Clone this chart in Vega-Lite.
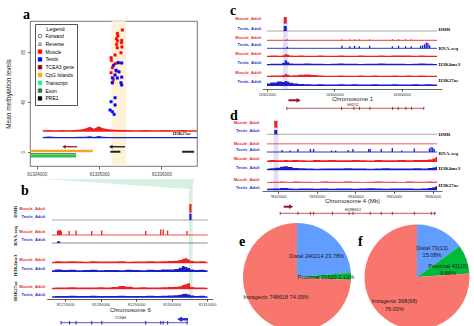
{
"$schema": "https://vega.github.io/schema/vega-lite/v6.json",
"padding": {"left": 5, "top": 4, "right": 0, "bottom": 0},
"config": {
  "font": "Liberation Sans",
  "view": {"stroke": null},
  "axis": {"grid": false},
  "title": {"anchor": "start", "frame": "group", "fontSize": 14, "font": "Liberation Serif", "fontWeight": "bold", "baseline": "alphabetic", "color": "#000"}
},
"datasets": {
  "aPts": [
    {"pos":81305372,"m":97.4,"series":"Muscle"},{"pos":81305292,"m":94.7,"series":"Muscle"},{"pos":81305300,"m":92.6,"series":"Muscle"},
    {"pos":81305276,"m":90.4,"series":"Muscle"},{"pos":81305295,"m":88.6,"series":"Muscle"},{"pos":81305362,"m":89.1,"series":"Muscle"},
    {"pos":81305280,"m":85.9,"series":"Muscle"},{"pos":81305360,"m":87.2,"series":"Muscle"},{"pos":81305290,"m":83.2,"series":"Muscle"},
    {"pos":81305365,"m":83.8,"series":"Muscle"},{"pos":81305350,"m":79.2,"series":"Muscle"},{"pos":81305255,"m":77.4,"series":"Muscle"},
    {"pos":81305191,"m":75.2,"series":"Muscle"},{"pos":81305195,"m":73.1,"series":"Muscle"},{"pos":81305255,"m":70.4,"series":"Muscle"},
    {"pos":81305319,"m":71.2,"series":"Muscle"},{"pos":81305212,"m":67.2,"series":"Muscle"},{"pos":81305276,"m":64.6,"series":"Muscle"},
    {"pos":81305191,"m":63.2,"series":"Muscle"},{"pos":81305228,"m":57.9,"series":"Muscle"},{"pos":81305212,"m":55.0,"series":"Muscle"},
    {"pos":81305300,"m":71.2,"series":"Testis"},{"pos":81305362,"m":71.0,"series":"Testis"},{"pos":81305228,"m":69.1,"series":"Testis"},
    {"pos":81305270,"m":65.2,"series":"Testis"},{"pos":81305319,"m":63.9,"series":"Testis"},{"pos":81305255,"m":61.4,"series":"Testis"},
    {"pos":81305212,"m":59.2,"series":"Testis"},{"pos":81305292,"m":59.0,"series":"Testis"},{"pos":81305362,"m":59.7,"series":"Testis"},
    {"pos":81305350,"m":55.2,"series":"Testis"},{"pos":81305362,"m":53.4,"series":"Testis"},{"pos":81305212,"m":55.5,"series":"Testis"},
    {"pos":81305255,"m":43.2,"series":"Testis"},{"pos":81305191,"m":40.0,"series":"Testis"},{"pos":81305255,"m":37.4,"series":"Testis"},
    {"pos":81305175,"m":33.4,"series":"Testis"},{"pos":81305212,"m":32.0,"series":"Testis"},{"pos":81305240,"m":29.9,"series":"Testis"}
  ],
  "aTrack": [
    {"pos":81304096,"red":1.5,"blue":1.2},{"pos":81304200,"red":1.6,"blue":1.8},{"pos":81304300,"red":1.4,"blue":1.3},
    {"pos":81304400,"red":1.7,"blue":1.2},{"pos":81304500,"red":1.5,"blue":1.4},{"pos":81304600,"red":1.6,"blue":1.3},
    {"pos":81304700,"red":2.2,"blue":1.5},{"pos":81304780,"red":3.2,"blue":1.6},{"pos":81304850,"red":5.0,"blue":2.0},
    {"pos":81304920,"red":3.0,"blue":1.4},{"pos":81304990,"red":5.5,"blue":2.2},{"pos":81305060,"red":3.5,"blue":1.5},
    {"pos":81305150,"red":2.5,"blue":1.3},{"pos":81305250,"red":2.0,"blue":1.2},{"pos":81305350,"red":1.8,"blue":1.4},
    {"pos":81305450,"red":1.6,"blue":1.3},{"pos":81305600,"red":1.5,"blue":1.2},{"pos":81305750,"red":1.7,"blue":1.3},
    {"pos":81305900,"red":1.4,"blue":1.2},{"pos":81306050,"red":1.6,"blue":1.4},{"pos":81306200,"red":1.5,"blue":1.2},
    {"pos":81306350,"red":1.7,"blue":1.3},{"pos":81306500,"red":1.5,"blue":1.2},{"pos":81306570,"red":1.4,"blue":1.2}
  ],
  "bSpan": [{"from":81266200,"to":81310150}],
  "bDmr": [{"pos":81305280,"m":8.7,"t":6.3}],
  "bRnaM": [
    {"pos":81267870,"v":4},{"pos":81268130,"v":5},{"pos":81268400,"v":4.5},{"pos":81268660,"v":5},{"pos":81268930,"v":3.5},
    {"pos":81271120,"v":4},{"pos":81273090,"v":4.5},{"pos":81277480,"v":4},{"pos":81280310,"v":4.5},{"pos":81292680,"v":4},
    {"pos":81296920,"v":5.5},{"pos":81297600,"v":5.5},{"pos":81298850,"v":4.5},{"pos":81304330,"v":4}
  ],
  "bRnaT": [{"pos":81267870,"v":1.5},{"pos":81268130,"v":2},{"pos":81268400,"v":1.5}],
  "bExon": [{"pos":81268848},{"pos":81271231},{"pos":81273084},{"pos":81277480},{"pos":81280314},{"pos":81292680},{"pos":81296917},{"pos":81297605},{"pos":81298850},{"pos":81304331}],
  "bChip": [
    {"pos":81266300,"k4m":1.6,"k4t":1.8,"k27m":1.6,"k27t":1.5},
    {"pos":81268000,"k4m":2.0,"k4t":2.4,"k27m":1.9,"k27t":1.8},
    {"pos":81270000,"k4m":1.7,"k4t":1.9,"k27m":1.7,"k27t":1.6},
    {"pos":81272000,"k4m":2.1,"k4t":2.2,"k27m":2.0,"k27t":2.0},
    {"pos":81274000,"k4m":1.8,"k4t":1.7,"k27m":1.8,"k27t":1.7},
    {"pos":81276000,"k4m":1.6,"k4t":2.0,"k27m":1.7,"k27t":1.6},
    {"pos":81278000,"k4m":2.0,"k4t":2.3,"k27m":1.9,"k27t":1.9},
    {"pos":81280000,"k4m":1.9,"k4t":1.8,"k27m":2.0,"k27t":1.7},
    {"pos":81282000,"k4m":1.7,"k4t":2.1,"k27m":1.8,"k27t":1.8},
    {"pos":81284000,"k4m":1.8,"k4t":1.9,"k27m":2.2,"k27t":1.6},
    {"pos":81286000,"k4m":2.0,"k4t":1.7,"k27m":3.2,"k27t":1.9},
    {"pos":81288000,"k4m":1.6,"k4t":2.2,"k27m":2.5,"k27t":1.7},
    {"pos":81290000,"k4m":1.9,"k4t":2.0,"k27m":1.9,"k27t":1.8},
    {"pos":81292000,"k4m":1.7,"k4t":1.8,"k27m":2.0,"k27t":1.6},
    {"pos":81294000,"k4m":2.0,"k4t":2.3,"k27m":1.8,"k27t":1.9},
    {"pos":81296000,"k4m":1.8,"k4t":1.9,"k27m":1.9,"k27t":1.8},
    {"pos":81298000,"k4m":2.1,"k4t":2.4,"k27m":2.0,"k27t":2.0},
    {"pos":81300000,"k4m":2.2,"k4t":2.6,"k27m":2.2,"k27t":2.1},
    {"pos":81301500,"k4m":2.6,"k4t":3.0,"k27m":2.5,"k27t":2.4},
    {"pos":81302500,"k4m":3.4,"k4t":4.2,"k27m":3.0,"k27t":3.0},
    {"pos":81303300,"k4m":4.6,"k4t":6.0,"k27m":4.2,"k27t":3.8},
    {"pos":81304000,"k4m":5.0,"k4t":5.0,"k27m":5.0,"k27t":4.0},
    {"pos":81304800,"k4m":3.8,"k4t":4.0,"k27m":6.0,"k27t":3.2},
    {"pos":81305600,"k4m":2.4,"k4t":2.5,"k27m":2.4,"k27t":2.2},
    {"pos":81307000,"k4m":1.8,"k4t":2.0,"k27m":1.8,"k27t":1.7},
    {"pos":81308500,"k4m":2.0,"k4t":2.2,"k27m":1.9,"k27t":1.9},
    {"pos":81310100,"k4m":1.6,"k4t":1.8,"k27m":1.6,"k27t":1.5}
  ],
  "cSpan": [{"from":163020000,"to":163070500}],
  "cDmr": [{"pos":163025420,"m":6.7,"t":5}],
  "cRnaM": [
    {"pos":163026090,"v":1},{"pos":163042250,"v":1},{"pos":163044610,"v":1},{"pos":163046010,"v":1},{"pos":163047410,"v":1},
    {"pos":163050500,"v":1},{"pos":163057240,"v":1},{"pos":163059090,"v":1},{"pos":163061160,"v":1},{"pos":163062850,"v":1}
  ],
  "cRnaT": [
    {"pos":163026090,"v":1.5},{"pos":163042250,"v":2.5},{"pos":163044610,"v":2},{"pos":163046010,"v":2.5},{"pos":163047410,"v":2},
    {"pos":163050500,"v":2.5},{"pos":163057240,"v":2},{"pos":163059090,"v":2.5},{"pos":163061160,"v":2},{"pos":163062850,"v":2},
    {"pos":163065600,"v":2.5},{"pos":163066200,"v":3},{"pos":163066800,"v":4},{"pos":163067300,"v":5.7},{"pos":163067800,"v":5.2},{"pos":163068300,"v":3}
  ],
  "cExon": [{"pos":163025893},{"pos":163042167},{"pos":163045815},{"pos":163047499},{"pos":163050585},{"pos":163057320},{"pos":163059003},{"pos":163061248},{"pos":163062932},{"pos":163066580}],
  "cChip": [
    {"pos":163020000,"k4m":1.2,"k4t":1.4,"k27m":1.2,"k27t":2.5},
    {"pos":163022000,"k4m":1.4,"k4t":1.6,"k27m":1.4,"k27t":3.5},
    {"pos":163024000,"k4m":1.3,"k4t":1.5,"k27m":1.5,"k27t":4.5},
    {"pos":163025000,"k4m":1.8,"k4t":2.5,"k27m":2.0,"k27t":4.0},
    {"pos":163025600,"k4m":3.0,"k4t":5.0,"k27m":3.0,"k27t":5.0},
    {"pos":163026200,"k4m":2.2,"k4t":3.0,"k27m":2.2,"k27t":4.2},
    {"pos":163027000,"k4m":1.5,"k4t":1.8,"k27m":1.6,"k27t":3.2},
    {"pos":163028500,"k4m":1.3,"k4t":1.6,"k27m":1.8,"k27t":2.6},
    {"pos":163030000,"k4m":1.4,"k4t":1.5,"k27m":2.2,"k27t":2.0},
    {"pos":163032000,"k4m":1.2,"k4t":1.7,"k27m":2.4,"k27t":1.8},
    {"pos":163034000,"k4m":1.3,"k4t":1.5,"k27m":2.0,"k27t":1.6},
    {"pos":163036000,"k4m":1.4,"k4t":1.6,"k27m":1.5,"k27t":1.7},
    {"pos":163038000,"k4m":1.2,"k4t":1.4,"k27m":1.3,"k27t":1.5},
    {"pos":163040000,"k4m":1.3,"k4t":1.5,"k27m":1.2,"k27t":1.6},
    {"pos":163042000,"k4m":1.4,"k4t":1.7,"k27m":1.4,"k27t":1.8},
    {"pos":163044000,"k4m":1.2,"k4t":1.5,"k27m":1.3,"k27t":1.5},
    {"pos":163046000,"k4m":1.3,"k4t":1.6,"k27m":1.2,"k27t":1.7},
    {"pos":163048000,"k4m":1.5,"k4t":1.4,"k27m":1.4,"k27t":1.6},
    {"pos":163050000,"k4m":1.3,"k4t":1.5,"k27m":1.3,"k27t":1.5},
    {"pos":163052000,"k4m":1.2,"k4t":1.6,"k27m":1.5,"k27t":1.7},
    {"pos":163054000,"k4m":1.4,"k4t":1.7,"k27m":1.3,"k27t":1.6},
    {"pos":163056000,"k4m":1.3,"k4t":1.5,"k27m":1.2,"k27t":1.5},
    {"pos":163058000,"k4m":1.5,"k4t":1.6,"k27m":1.4,"k27t":1.8},
    {"pos":163060000,"k4m":1.6,"k4t":1.5,"k27m":1.3,"k27t":1.6},
    {"pos":163062000,"k4m":1.4,"k4t":1.4,"k27m":1.5,"k27t":1.5},
    {"pos":163064000,"k4m":1.3,"k4t":1.6,"k27m":1.3,"k27t":1.7},
    {"pos":163066000,"k4m":1.4,"k4t":1.7,"k27m":1.4,"k27t":1.6},
    {"pos":163068000,"k4m":1.3,"k4t":1.5,"k27m":1.2,"k27t":1.8},
    {"pos":163070500,"k4m":1.2,"k4t":1.4,"k27m":1.3,"k27t":1.5}
  ],
  "dSpan": [{"from":98417100,"to":98461150}],
  "dDmr": [{"pos":98419380,"m":6.7,"t":4.3}],
  "dRnaM": [{"pos":98417100,"v":0.9},{"pos":98461150,"v":0.9}],
  "dRnaT": [
    {"pos":98421015,"v":2},{"pos":98423046,"v":1.5},{"pos":98425102,"v":3},{"pos":98428356,"v":3},{"pos":98429164,"v":3},
    {"pos":98433813,"v":1.5},{"pos":98434890,"v":1.5},{"pos":98438144,"v":2},{"pos":98439368,"v":3},{"pos":98443454,"v":3},
    {"pos":98443846,"v":3},{"pos":98446709,"v":3},{"pos":98449572,"v":4},{"pos":98452019,"v":1.5},{"pos":98455273,"v":3.5},
    {"pos":98459188,"v":3.5},{"pos":98459604,"v":5},{"pos":98460045,"v":4.5},{"pos":98460412,"v":3}
  ],
  "dExon": [{"pos":98420526},{"pos":98425102},{"pos":98428356},{"pos":98429164},{"pos":98434057},{"pos":98438389},{"pos":98439368},{"pos":98443846},{"pos":98446709},{"pos":98449572},{"pos":98455273},{"pos":98459678},{"pos":98460535}],
  "dChip": [
    {"pos":98417100,"k4m":1.6,"k4t":1.6,"k27m":0.8,"k27t":1.5},
    {"pos":98418500,"k4m":1.9,"k4t":2.0,"k27m":1.0,"k27t":1.9},
    {"pos":98420000,"k4m":1.7,"k4t":2.6,"k27m":0.9,"k27t":1.7},
    {"pos":98421000,"k4m":1.8,"k4t":3.6,"k27m":1.2,"k27t":2.2},
    {"pos":98422000,"k4m":2.0,"k4t":4.0,"k27m":1.0,"k27t":2.4},
    {"pos":98423000,"k4m":1.7,"k4t":3.2,"k27m":0.8,"k27t":1.8},
    {"pos":98424500,"k4m":1.9,"k4t":2.4,"k27m":1.1,"k27t":1.6},
    {"pos":98426000,"k4m":1.8,"k4t":2.0,"k27m":0.9,"k27t":1.9},
    {"pos":98428000,"k4m":1.6,"k4t":1.8,"k27m":1.0,"k27t":1.7},
    {"pos":98430000,"k4m":1.9,"k4t":1.6,"k27m":0.8,"k27t":1.5},
    {"pos":98432000,"k4m":1.7,"k4t":1.9,"k27m":1.1,"k27t":1.8},
    {"pos":98434000,"k4m":2.0,"k4t":1.7,"k27m":0.9,"k27t":1.6},
    {"pos":98436000,"k4m":1.8,"k4t":1.8,"k27m":1.0,"k27t":1.9},
    {"pos":98438000,"k4m":1.7,"k4t":2.0,"k27m":1.2,"k27t":1.7},
    {"pos":98440000,"k4m":1.9,"k4t":1.7,"k27m":0.9,"k27t":1.6},
    {"pos":98442000,"k4m":1.8,"k4t":1.9,"k27m":0.8,"k27t":1.8},
    {"pos":98444000,"k4m":1.6,"k4t":1.6,"k27m":1.0,"k27t":2.0},
    {"pos":98446000,"k4m":1.9,"k4t":1.8,"k27m":1.1,"k27t":1.7},
    {"pos":98448000,"k4m":1.7,"k4t":2.0,"k27m":0.9,"k27t":1.6},
    {"pos":98450000,"k4m":1.8,"k4t":1.7,"k27m":1.0,"k27t":1.9},
    {"pos":98452000,"k4m":2.0,"k4t":1.9,"k27m":0.8,"k27t":1.7},
    {"pos":98454000,"k4m":1.7,"k4t":1.8,"k27m":1.1,"k27t":1.8},
    {"pos":98456000,"k4m":1.9,"k4t":2.0,"k27m":0.9,"k27t":1.6},
    {"pos":98458000,"k4m":2.0,"k4t":1.9,"k27m":1.0,"k27t":1.9},
    {"pos":98459500,"k4m":2.4,"k4t":2.2,"k27m":1.2,"k27t":2.2},
    {"pos":98460400,"k4m":3.5,"k4t":2.8,"k27m":1.0,"k27t":3.0},
    {"pos":98461150,"k4m":5.0,"k4t":3.5,"k27m":1.3,"k27t":4.0}
  ],
  "pieE": [
    {"cat":"Distal","v":240214,"i":1,"label":"Distal  240214  23.78%"},
    {"cat":"Proximal","v":21520,"i":2,"label":"Proximal  21520  2.13%"},
    {"cat":"Intragenic","v":748618,"i":3,"label":"Intragenic  748618  74.09%"}
  ],
  "pieF": [
    {"cat":"Distal","v":73,"i":1,"label":"Distal  73(13)\n15.08%"},
    {"cat":"Proximal","v":43,"i":2,"label":"Proximal  43(15)\n8.88%"},
    {"cat":"Intragenic","v":368,"i":3,"label":"Intragenic  368(68)\n76.03%"}
  ]
},
"spacing": 13,
"bounds": "full",
"hconcat": [
 {"vconcat": [
  {
   "width": 167, "height": 145,
   "title": {"text": "a", "offset": 5, "dy": 6, "dx": -7},
   "view": {"stroke": "#555", "strokeWidth": 0.8},
   "resolve": {"scale": {"y": "independent"}},
   "layer": [
    {"layer": [
      {"data": {"values": [{"from": 81305200, "to": 81305430}]}, "mark": {"type": "rect", "color": "#fdf1d3", "opacity": 0.9},
       "encoding": {"x": {"field": "from", "type": "quantitative"}, "x2": {"field": "to"}}},
      {"data": {"name": "aPts"}, "mark": {"type": "point", "size": 6, "strokeWidth": 0.5, "opacity": 1},
       "encoding": {
        "x": {"field": "pos", "type": "quantitative", "scale": {"domain": [81303890, 81306570], "nice": false, "zero": false},
              "axis": {"values": [81304000, 81304500, 81305000, 81305500, 81306000, 81306500], "format": "d", "title": null, "labelFontSize": 4.5, "labelColor": "#444", "tickSize": 3, "tickColor": "#666", "domain": false, "labelPadding": 2, "labelFlush": false}},
        "y": {"field": "m", "type": "quantitative", "scale": {"domain": [-11.4, 104.6], "nice": false, "zero": false},
              "axis": {"values": [0, 20, 40, 60, 80, 100], "title": "Mean methylation levels", "titleFontSize": 6.5, "titleFontWeight": "normal", "titleColor": "#222", "labelAngle": 270, "labelAlign": "center", "labelBaseline": "bottom", "labelFontSize": 4.5, "labelColor": "#444", "tickSize": 2.5, "tickColor": "#666", "domain": false, "labelPadding": 2, "titlePadding": 9}},
        "fill": {"field": "series", "type": "nominal",
                 "scale": {"domain": ["Forward","Reverse","Muscle","Testis","TCEA3 gene","CpG Islands","Transcript","Exon","PRE1"],
                           "range": ["transparent","transparent","#ff0000","#0000ff","#8b0000","#ffa500","#00ff7f","#1e7b34","#000000"]},
                 "legend": {"title": "Legend", "orient": "none", "legendX": 5, "legendY": 3, "strokeColor": "#555", "fillColor": "white", "padding": 2.5, "titleFontSize": 5.5, "titleFontWeight": "normal", "titleAnchor": "middle", "titlePadding": 1.5, "labelFontSize": 5, "symbolSize": 12, "rowPadding": 0.8, "symbolStrokeWidth": 0.8, "labelOffset": 3}},
        "stroke": {"field": "series", "type": "nominal",
                 "scale": {"domain": ["Forward","Reverse","Muscle","Testis","TCEA3 gene","CpG Islands","Transcript","Exon","PRE1"],
                           "range": ["#555","#555","#ff0000","#0000ff","#8b0000","#ffa500","#00ff7f","#1e7b34","#000000"]},
                 "legend": {"title": "Legend", "orient": "none", "legendX": 5, "legendY": 3, "strokeColor": "#555", "fillColor": "white", "padding": 2.5, "titleFontSize": 5.5, "titleFontWeight": "normal", "titleAnchor": "middle", "titlePadding": 1.5, "labelFontSize": 5, "symbolSize": 12, "rowPadding": 0.8, "symbolStrokeWidth": 0.8, "labelOffset": 3}},
        "shape": {"field": "series", "type": "nominal",
                 "scale": {"domain": ["Forward","Reverse","Muscle","Testis","TCEA3 gene","CpG Islands","Transcript","Exon","PRE1"],
                           "range": ["circle","triangle-up","square","square","square","square","square","square","square"]},
                 "legend": {"title": "Legend", "orient": "none", "legendX": 5, "legendY": 3, "strokeColor": "#555", "fillColor": "white", "padding": 2.5, "titleFontSize": 5.5, "titleFontWeight": "normal", "titleAnchor": "middle", "titlePadding": 1.5, "labelFontSize": 5, "symbolSize": 12, "rowPadding": 0.8, "symbolStrokeWidth": 0.8, "labelOffset": 3}}
       }},
      {"data": {"values": [{"from": 81303890, "to": 81304897}]}, "mark": {"type": "rule", "color": "#f5a52a", "strokeWidth": 2.5},
       "encoding": {"x": {"field": "from", "type": "quantitative"}, "x2": {"field": "to"}, "y": {"datum": 0.6, "type": "quantitative"}}},
      {"data": {"values": [{"from": 81303890, "to": 81304630}]}, "mark": {"type": "rule", "color": "#2ec455", "strokeWidth": 3},
       "encoding": {"x": {"field": "from", "type": "quantitative"}, "x2": {"field": "to"}, "y": {"datum": -3.4, "type": "quantitative"}}},
      {"data": {"values": [{"from": 81303890, "to": 81304630}]}, "mark": {"type": "rule", "color": "#1d7a36", "strokeWidth": 1.2},
       "encoding": {"x": {"field": "from", "type": "quantitative"}, "x2": {"field": "to"}, "y": {"datum": -1.6, "type": "quantitative"}}},
      {"data": {"values": [{"from": 81305180, "to": 81305340}, {"from": 81306330, "to": 81306525}]}, "mark": {"type": "rule", "color": "#222", "strokeWidth": 2},
       "encoding": {"x": {"field": "from", "type": "quantitative"}, "x2": {"field": "to"}, "y": {"datum": 0, "type": "quantitative"}}},
      {"data": {"values": [{"from": 81304450, "to": 81304646}]}, "mark": {"type": "rule", "color": "#9b1c1c", "strokeWidth": 1.3},
       "encoding": {"x": {"field": "from", "type": "quantitative"}, "x2": {"field": "to"}, "y": {"datum": 4, "type": "quantitative"}}},
      {"data": {"values": [{"from": 81304435}]}, "mark": {"type": "point", "shape": "triangle-left", "filled": true, "size": 16, "color": "#9b1c1c", "opacity": 1},
       "encoding": {"x": {"field": "from", "type": "quantitative"}, "y": {"datum": 4, "type": "quantitative"}}},
      {"data": {"values": [{"from": 81305200, "to": 81305415}]}, "mark": {"type": "rule", "color": "#111", "strokeWidth": 1.3},
       "encoding": {"x": {"field": "from", "type": "quantitative"}, "x2": {"field": "to"}, "y": {"datum": 4, "type": "quantitative"}}},
      {"data": {"values": [{"from": 81305185}]}, "mark": {"type": "point", "shape": "triangle-left", "filled": true, "size": 16, "color": "#111", "opacity": 1},
       "encoding": {"x": {"field": "from", "type": "quantitative"}, "y": {"datum": 4, "type": "quantitative"}}}
    ]},
    {"layer": [
      {"data": {"name": "aTrack"}, "mark": {"type": "area", "color": "#ee2024"},
       "encoding": {"x": {"field": "pos", "type": "quantitative"}, "y": {"field": "red", "type": "quantitative", "scale": {"domain": [0, 10], "range": [110.7, 100.7]}, "axis": null}}}
    ]},
    {"layer": [
      {"data": {"name": "aTrack"}, "mark": {"type": "area", "color": "#1c1cc8"},
       "encoding": {"x": {"field": "pos", "type": "quantitative"}, "y": {"field": "blue", "type": "quantitative", "scale": {"domain": [0, 10], "range": [117.3, 107.3]}, "axis": null}}},
      {"data": {"values": [{"t": "H3K27ac"}]}, "mark": {"type": "text", "fontSize": 4.5, "fontWeight": "bold", "font": "Liberation Serif", "color": "#111"},
       "encoding": {"x": {"datum": 81306325, "type": "quantitative"}, "y": {"datum": 4, "type": "quantitative", "axis": null}, "text": {"field": "t", "type": "nominal"}}}
    ]}
   ]
  },
  {
   "width": 183, "height": 112,
   "title": {"text": "b", "offset": 0, "dy": 19, "dx": -9},
   "resolve": {"scale": {"y": "independent"}},
   "layer": [
    {"layer": [
      {"data": {"values": [{"pos": 81263896, "lo": 122, "hi": 122}, {"pos": 81304840, "lo": 112, "hi": 122}, {"pos": 81305900, "lo": 112, "hi": 122}, {"pos": 81306264, "lo": 122, "hi": 122}]},
       "mark": {"type": "area", "color": "#cfeedd", "opacity": 0.85},
       "encoding": {
        "x": {"field": "pos", "type": "quantitative", "scale": {"domain": [81266200, 81310150], "range": [16.7, 182.7], "nice": false, "zero": false},
              "axis": {"values": [81270000, 81280000, 81290000, 81300000, 81310000], "format": "d", "title": "Chromosome 6", "titleFontSize": 6, "titleFontWeight": "normal", "titleColor": "#222", "labelFontSize": 4, "labelColor": "#333", "tickSize": 2, "tickColor": "#333", "domainColor": "#333", "domainWidth": 0.8, "labelPadding": 1, "titlePadding": 0, "labelFlush": false}},
        "y": {"field": "lo", "type": "quantitative", "scale": {"domain": [0, 100], "range": [114, 14]}, "axis": null},
        "y2": {"field": "hi"}}},
      {"data": {"values": [{"pos": 81304840, "pos2": 81305900}]}, "mark": {"type": "rect", "color": "#cfeedd", "opacity": 0.85},
       "encoding": {"x": {"field": "pos", "type": "quantitative"}, "x2": {"field": "pos2"}}}
    ]},
    {"layer": [
      {"data": {"name": "bDmr"}, "mark": {"type": "bar", "orient": "vertical", "width": 2.2, "color": "#ee2024"},
       "encoding": {"x": {"field": "pos", "type": "quantitative"}, "y": {"field": "m", "type": "quantitative", "scale": {"domain": [0, 10], "range": [25.7, 15.7]}, "axis": null}}},
      {"data": {"values": [{"t": "Muscle_Adult"}]}, "mark": {"type": "text", "align": "right", "baseline": "middle", "fontSize": 4, "fontWeight": "bold", "color": "#e8262d", "dx": -6.5},
       "encoding": {"x": {"datum": 81266200, "type": "quantitative"}, "y": {"datum": 4, "type": "quantitative", "axis": null}, "text": {"field": "t", "type": "nominal"}}},
      {"data": {"values": [{"t": "DMR"}]}, "mark": {"type": "text", "angle": 270, "align": "center", "baseline": "middle", "fontSize": 5, "fontWeight": "bold", "font": "Liberation Serif", "color": "#111"},
       "encoding": {"x": {"datum": 81255950, "type": "quantitative"}, "y": {"datum": 1, "type": "quantitative", "axis": null}, "text": {"field": "t", "type": "nominal"}}}
    ]},
    {"layer": [
      {"data": {"name": "bSpan"}, "mark": {"type": "rule", "color": "#8f8f8f", "strokeWidth": 0.8},
       "encoding": {"x": {"field": "from", "type": "quantitative"}, "x2": {"field": "to"}, "y": {"datum": 0, "type": "quantitative", "axis": null}}},
      {"data": {"name": "bDmr"}, "mark": {"type": "bar", "orient": "vertical", "width": 2.2, "color": "#1c1cc8"},
       "encoding": {"x": {"field": "pos", "type": "quantitative"}, "y": {"field": "t", "type": "quantitative", "scale": {"domain": [0, 10], "range": [33, 23]}, "axis": null}}},
      {"data": {"values": [{"t": "Testis_Adult"}]}, "mark": {"type": "text", "align": "right", "baseline": "middle", "fontSize": 4, "fontWeight": "bold", "color": "#2b2bd6", "dx": -6.5},
       "encoding": {"x": {"datum": 81266200, "type": "quantitative"}, "y": {"datum": 3.3, "type": "quantitative", "axis": null}, "text": {"field": "t", "type": "nominal"}}}
    ]},
    {"layer": [
      {"data": {"name": "bSpan"}, "mark": {"type": "rule", "color": "#ee2024", "strokeWidth": 0.8},
       "encoding": {"x": {"field": "from", "type": "quantitative"}, "x2": {"field": "to"}, "y": {"datum": 0, "type": "quantitative", "axis": null}}},
      {"data": {"name": "bRnaM"}, "mark": {"type": "bar", "orient": "vertical", "width": 1.3, "color": "#ee2024"},
       "encoding": {"x": {"field": "pos", "type": "quantitative"}, "y": {"field": "v", "type": "quantitative", "scale": {"domain": [0, 10], "range": [48, 38]}, "axis": null}}},
      {"data": {"values": [{"t": "Muscle_Adult"}]}, "mark": {"type": "text", "align": "right", "baseline": "middle", "fontSize": 4, "fontWeight": "bold", "color": "#e8262d", "dx": -6.5},
       "encoding": {"x": {"datum": 81266200, "type": "quantitative"}, "y": {"datum": 3, "type": "quantitative", "axis": null}, "text": {"field": "t", "type": "nominal"}}},
      {"data": {"values": [{"t": "RNA-seq"}]}, "mark": {"type": "text", "angle": 270, "align": "center", "baseline": "middle", "fontSize": 5, "fontWeight": "bold", "font": "Liberation Serif", "color": "#111"},
       "encoding": {"x": {"datum": 81255950, "type": "quantitative"}, "y": {"datum": -1, "type": "quantitative", "axis": null}, "text": {"field": "t", "type": "nominal"}}}
    ]},
    {"layer": [
      {"data": {"name": "bSpan"}, "mark": {"type": "rule", "color": "#707070", "strokeWidth": 0.8},
       "encoding": {"x": {"field": "from", "type": "quantitative"}, "x2": {"field": "to"}, "y": {"datum": 0, "type": "quantitative", "axis": null}}},
      {"data": {"name": "bRnaT"}, "mark": {"type": "bar", "orient": "vertical", "width": 1.3, "color": "#1c1cc8"},
       "encoding": {"x": {"field": "pos", "type": "quantitative"}, "y": {"field": "v", "type": "quantitative", "scale": {"domain": [0, 10], "range": [56, 46]}, "axis": null}}},
      {"data": {"values": [{"t": "Testis_Adult"}]}, "mark": {"type": "text", "align": "right", "baseline": "middle", "fontSize": 4, "fontWeight": "bold", "color": "#2b2bd6", "dx": -6.5},
       "encoding": {"x": {"datum": 81266200, "type": "quantitative"}, "y": {"datum": 2.7, "type": "quantitative", "axis": null}, "text": {"field": "t", "type": "nominal"}}}
    ]},
    {"layer": [
      {"data": {"name": "bChip"}, "mark": {"type": "area", "color": "#ee2024", "interpolate": "step"},
       "encoding": {"x": {"field": "pos", "type": "quantitative"}, "y": {"field": "k4m", "type": "quantitative", "scale": {"domain": [0, 10], "range": [76.3, 66.3]}, "axis": null}}},
      {"data": {"values": [{"t": "Muscle_Adult"}]}, "mark": {"type": "text", "align": "right", "baseline": "middle", "fontSize": 4, "fontWeight": "bold", "color": "#e8262d", "dx": -6.5},
       "encoding": {"x": {"datum": 81266200, "type": "quantitative"}, "y": {"datum": 3, "type": "quantitative", "axis": null}, "text": {"field": "t", "type": "nominal"}}},
      {"data": {"values": [{"t": "H3K4me3"}]}, "mark": {"type": "text", "angle": 270, "align": "center", "baseline": "middle", "fontSize": 5, "fontWeight": "bold", "font": "Liberation Serif", "color": "#111"},
       "encoding": {"x": {"datum": 81255950, "type": "quantitative"}, "y": {"datum": -2, "type": "quantitative", "axis": null}, "text": {"field": "t", "type": "nominal"}}}
    ]},
    {"layer": [
      {"data": {"name": "bChip"}, "mark": {"type": "area", "color": "#1c1cc8", "interpolate": "step"},
       "encoding": {"x": {"field": "pos", "type": "quantitative"}, "y": {"field": "k4t", "type": "quantitative", "scale": {"domain": [0, 10], "range": [85, 75]}, "axis": null}}},
      {"data": {"values": [{"t": "Testis_Adult"}]}, "mark": {"type": "text", "align": "right", "baseline": "middle", "fontSize": 4, "fontWeight": "bold", "color": "#2b2bd6", "dx": -6.5},
       "encoding": {"x": {"datum": 81266200, "type": "quantitative"}, "y": {"datum": 3, "type": "quantitative", "axis": null}, "text": {"field": "t", "type": "nominal"}}}
    ]},
    {"layer": [
      {"data": {"name": "bChip"}, "mark": {"type": "area", "color": "#ee2024", "interpolate": "step"},
       "encoding": {"x": {"field": "pos", "type": "quantitative"}, "y": {"field": "k27m", "type": "quantitative", "scale": {"domain": [0, 10], "range": [102.3, 92.3]}, "axis": null}}},
      {"data": {"values": [{"t": "Muscle_Adult"}]}, "mark": {"type": "text", "align": "right", "baseline": "middle", "fontSize": 4, "fontWeight": "bold", "color": "#e8262d", "dx": -6.5},
       "encoding": {"x": {"datum": 81266200, "type": "quantitative"}, "y": {"datum": 2.3, "type": "quantitative", "axis": null}, "text": {"field": "t", "type": "nominal"}}},
      {"data": {"values": [{"t": "H3K27ac"}]}, "mark": {"type": "text", "angle": 270, "align": "center", "baseline": "middle", "fontSize": 5, "fontWeight": "bold", "font": "Liberation Serif", "color": "#111"},
       "encoding": {"x": {"datum": 81255950, "type": "quantitative"}, "y": {"datum": -1.7, "type": "quantitative", "axis": null}, "text": {"field": "t", "type": "nominal"}}}
    ]},
    {"layer": [
      {"data": {"name": "bChip"}, "mark": {"type": "area", "color": "#1c1cc8", "interpolate": "step"},
       "encoding": {"x": {"field": "pos", "type": "quantitative"}, "y": {"field": "k27t", "type": "quantitative", "scale": {"domain": [0, 10], "range": [110.7, 100.7]}, "axis": null}}},
      {"data": {"values": [{"t": "Testis_Adult"}]}, "mark": {"type": "text", "align": "right", "baseline": "middle", "fontSize": 4, "fontWeight": "bold", "color": "#2b2bd6", "dx": -6.5},
       "encoding": {"x": {"datum": 81266200, "type": "quantitative"}, "y": {"datum": 2.7, "type": "quantitative", "axis": null}, "text": {"field": "t", "type": "nominal"}}}
    ]},
    {"layer": [
      {"data": {"values": [{"from": 81268848, "to": 81304596}]}, "mark": {"type": "rule", "color": "#2a2acc", "strokeWidth": 0.8},
       "encoding": {"x": {"field": "from", "type": "quantitative"}, "x2": {"field": "to"}, "y": {"datum": 0, "type": "quantitative", "scale": {"domain": [0, 10], "range": [135.7, 125.7]}, "axis": null}}},
      {"data": {"name": "bExon"}, "mark": {"type": "tick", "orient": "vertical", "size": 3.6, "thickness": 1.1, "color": "#2a2acc", "opacity": 1},
       "encoding": {"x": {"field": "pos", "type": "quantitative"}, "y": {"datum": 0, "type": "quantitative", "axis": null}}},
      {"data": {"values": [{"from": 81302500, "to": 81304600}]}, "mark": {"type": "rule", "color": "#2a2acc", "strokeWidth": 2.5},
       "encoding": {"x": {"field": "from", "type": "quantitative"}, "x2": {"field": "to"}, "y": {"datum": 3.4, "type": "quantitative", "axis": null}}},
      {"data": {"values": [{"from": 81302213}]}, "mark": {"type": "point", "shape": "triangle-left", "filled": true, "size": 30, "color": "#2a2acc", "opacity": 1},
       "encoding": {"x": {"field": "from", "type": "quantitative"}, "y": {"datum": 3.4, "type": "quantitative", "axis": null}}},
      {"data": {"values": [{"t": "TCEA3"}]}, "mark": {"type": "text", "fontSize": 3.5, "color": "#333"},
       "encoding": {"x": {"datum": 81285610, "type": "quantitative"}, "y": {"datum": 5, "type": "quantitative", "axis": null}, "text": {"field": "t", "type": "nominal"}}}
    ]}
   ]
  }
 ], "spacing": 21, "bounds": "flush"},
 {"vconcat": [
  {
   "width": 180, "height": 68,
   "title": {"text": "c", "offset": 5, "dy": 6, "dx": -32},
   "resolve": {"scale": {"y": "independent"}},
   "layer": [
    {"data": {"values": [{"pos": 163024770, "pos2": 163026170}]}, "mark": {"type": "rect", "color": "#dcdcf5", "opacity": 0.9},
     "encoding": {
      "x": {"field": "pos", "type": "quantitative", "scale": {"domain": [163020000, 163070500], "nice": false, "zero": false},
            "axis": {"values": [163020000, 163030000, 163040000, 163050000, 163060000, 163070000], "format": "d", "title": "Chromosome 1", "titleFontSize": 6, "titleFontWeight": "normal", "titleColor": "#222", "labelFontSize": 3.5, "labelColor": "#333", "tickSize": 2, "tickColor": "#444", "domainColor": "#444", "domainWidth": 0.8, "labelPadding": 1, "titlePadding": 0, "labelFlush": false}},
      "x2": {"field": "pos2"}}},
    {"layer": [
      {"data": {"name": "cDmr"}, "mark": {"type": "bar", "orient": "vertical", "width": 3, "color": "#ee2024"},
       "encoding": {"x": {"field": "pos", "type": "quantitative"}, "y": {"field": "m", "type": "quantitative", "scale": {"domain": [0, 10], "range": [2.7, -7.3]}, "axis": null}}},
      {"data": {"values": [{"t": "Muscle_Adult"}]}, "mark": {"type": "text", "align": "right", "baseline": "middle", "fontSize": 4, "fontWeight": "bold", "color": "#e8262d", "dx": -5.7},
       "encoding": {"x": {"datum": 163020000, "type": "quantitative"}, "y": {"datum": 4.4, "type": "quantitative", "axis": null}, "text": {"field": "t", "type": "nominal"}}}
    ]},
    {"layer": [
      {"data": {"name": "cSpan"}, "mark": {"type": "rule", "color": "#8f8f8f", "strokeWidth": 0.8},
       "encoding": {"x": {"field": "from", "type": "quantitative"}, "x2": {"field": "to"}, "y": {"datum": 0, "type": "quantitative", "axis": null}}},
      {"data": {"name": "cDmr"}, "mark": {"type": "bar", "orient": "vertical", "width": 3, "color": "#1c1cc8"},
       "encoding": {"x": {"field": "pos", "type": "quantitative"}, "y": {"field": "t", "type": "quantitative", "scale": {"domain": [0, 10], "range": [10, 0]}, "axis": null}}},
      {"data": {"values": [{"t": "Testis_Adult"}]}, "mark": {"type": "text", "align": "right", "baseline": "middle", "fontSize": 4, "fontWeight": "bold", "color": "#2b2bd6", "dx": -5.7},
       "encoding": {"x": {"datum": 163020000, "type": "quantitative"}, "y": {"datum": 2.3, "type": "quantitative", "axis": null}, "text": {"field": "t", "type": "nominal"}}},
      {"data": {"values": [{"t": "DMR"}]}, "mark": {"type": "text", "align": "left", "baseline": "middle", "fontSize": 5, "fontWeight": "bold", "font": "Liberation Serif", "color": "#111", "dx": 1.5},
       "encoding": {"x": {"datum": 163070500, "type": "quantitative"}, "y": {"datum": 1.7, "type": "quantitative", "axis": null}, "text": {"field": "t", "type": "nominal"}}}
    ]},
    {"layer": [
      {"data": {"name": "cSpan"}, "mark": {"type": "rule", "color": "#ee2024", "strokeWidth": 0.9},
       "encoding": {"x": {"field": "from", "type": "quantitative"}, "x2": {"field": "to"}, "y": {"datum": 0, "type": "quantitative", "axis": null}}},
      {"data": {"name": "cRnaM"}, "mark": {"type": "bar", "orient": "vertical", "width": 1, "color": "#ee2024"},
       "encoding": {"x": {"field": "pos", "type": "quantitative"}, "y": {"field": "v", "type": "quantitative", "scale": {"domain": [0, 10], "range": [19.3, 9.3]}, "axis": null}}},
      {"data": {"values": [{"t": "Muscle_Adult"}]}, "mark": {"type": "text", "align": "right", "baseline": "middle", "fontSize": 4, "fontWeight": "bold", "color": "#e8262d", "dx": -5.7},
       "encoding": {"x": {"datum": 163020000, "type": "quantitative"}, "y": {"datum": 2.6, "type": "quantitative", "axis": null}, "text": {"field": "t", "type": "nominal"}}}
    ]},
    {"layer": [
      {"data": {"name": "cSpan"}, "mark": {"type": "rule", "color": "#1c1cc8", "strokeWidth": 0.9},
       "encoding": {"x": {"field": "from", "type": "quantitative"}, "x2": {"field": "to"}, "y": {"datum": 0, "type": "quantitative", "axis": null}}},
      {"data": {"name": "cRnaT"}, "mark": {"type": "bar", "orient": "vertical", "width": 1.3, "color": "#1c1cc8"},
       "encoding": {"x": {"field": "pos", "type": "quantitative"}, "y": {"field": "v", "type": "quantitative", "scale": {"domain": [0, 10], "range": [27.3, 17.3]}, "axis": null}}},
      {"data": {"values": [{"t": "Testis_Adult"}]}, "mark": {"type": "text", "align": "right", "baseline": "middle", "fontSize": 4, "fontWeight": "bold", "color": "#2b2bd6", "dx": -5.7},
       "encoding": {"x": {"datum": 163020000, "type": "quantitative"}, "y": {"datum": 3, "type": "quantitative", "axis": null}, "text": {"field": "t", "type": "nominal"}}},
      {"data": {"values": [{"t": "RNA-seq"}]}, "mark": {"type": "text", "align": "left", "baseline": "middle", "fontSize": 5, "fontWeight": "bold", "font": "Liberation Serif", "color": "#111", "dx": 1.5},
       "encoding": {"x": {"datum": 163070500, "type": "quantitative"}, "y": {"datum": 0.6, "type": "quantitative", "axis": null}, "text": {"field": "t", "type": "nominal"}}}
    ]},
    {"layer": [
      {"data": {"name": "cChip"}, "mark": {"type": "area", "color": "#ee2024", "interpolate": "step"},
       "encoding": {"x": {"field": "pos", "type": "quantitative"}, "y": {"field": "k4m", "type": "quantitative", "scale": {"domain": [0, 10], "range": [36, 26]}, "axis": null}}},
      {"data": {"values": [{"t": "Muscle_Adult"}]}, "mark": {"type": "text", "align": "right", "baseline": "middle", "fontSize": 4, "fontWeight": "bold", "color": "#e8262d", "dx": -5.7},
       "encoding": {"x": {"datum": 163020000, "type": "quantitative"}, "y": {"datum": 2.7, "type": "quantitative", "axis": null}, "text": {"field": "t", "type": "nominal"}}}
    ]},
    {"layer": [
      {"data": {"name": "cChip"}, "mark": {"type": "area", "color": "#1c1cc8", "interpolate": "step"},
       "encoding": {"x": {"field": "pos", "type": "quantitative"}, "y": {"field": "k4t", "type": "quantitative", "scale": {"domain": [0, 10], "range": [44.3, 34.3]}, "axis": null}}},
      {"data": {"values": [{"t": "Testis_Adult"}]}, "mark": {"type": "text", "align": "right", "baseline": "middle", "fontSize": 4, "fontWeight": "bold", "color": "#2b2bd6", "dx": -5.7},
       "encoding": {"x": {"datum": 163020000, "type": "quantitative"}, "y": {"datum": 2.6, "type": "quantitative", "axis": null}, "text": {"field": "t", "type": "nominal"}}},
      {"data": {"values": [{"t": "H3K4me3"}]}, "mark": {"type": "text", "align": "left", "baseline": "middle", "fontSize": 5, "fontWeight": "bold", "font": "Liberation Serif", "color": "#111", "dx": 1.5},
       "encoding": {"x": {"datum": 163070500, "type": "quantitative"}, "y": {"datum": 1, "type": "quantitative", "axis": null}, "text": {"field": "t", "type": "nominal"}}}
    ]},
    {"layer": [
      {"data": {"name": "cChip"}, "mark": {"type": "area", "color": "#ee2024", "interpolate": "step"},
       "encoding": {"x": {"field": "pos", "type": "quantitative"}, "y": {"field": "k27m", "type": "quantitative", "scale": {"domain": [0, 10], "range": [56, 46]}, "axis": null}}},
      {"data": {"values": [{"t": "Muscle_Adult"}]}, "mark": {"type": "text", "align": "right", "baseline": "middle", "fontSize": 4, "fontWeight": "bold", "color": "#e8262d", "dx": -5.7},
       "encoding": {"x": {"datum": 163020000, "type": "quantitative"}, "y": {"datum": 3.7, "type": "quantitative", "axis": null}, "text": {"field": "t", "type": "nominal"}}}
    ]},
    {"layer": [
      {"data": {"name": "cChip"}, "mark": {"type": "area", "color": "#1c1cc8", "interpolate": "step"},
       "encoding": {"x": {"field": "pos", "type": "quantitative"}, "y": {"field": "k27t", "type": "quantitative", "scale": {"domain": [0, 10], "range": [65, 55]}, "axis": null}}},
      {"data": {"values": [{"t": "Testis_Adult"}]}, "mark": {"type": "text", "align": "right", "baseline": "middle", "fontSize": 4, "fontWeight": "bold", "color": "#2b2bd6", "dx": -5.7},
       "encoding": {"x": {"datum": 163020000, "type": "quantitative"}, "y": {"datum": 4.3, "type": "quantitative", "axis": null}, "text": {"field": "t", "type": "nominal"}}},
      {"data": {"values": [{"t": "H3K27ac"}]}, "mark": {"type": "text", "align": "left", "baseline": "middle", "fontSize": 5, "fontWeight": "bold", "font": "Liberation Serif", "color": "#111", "dx": 1.5},
       "encoding": {"x": {"datum": 163070500, "type": "quantitative"}, "y": {"datum": 6, "type": "quantitative", "axis": null}, "text": {"field": "t", "type": "nominal"}}}
    ]},
    {"layer": [
      {"data": {"values": [{"from": 163025890, "to": 163066580}]}, "mark": {"type": "rule", "color": "#b43030", "strokeWidth": 0.8},
       "encoding": {"x": {"field": "from", "type": "quantitative"}, "x2": {"field": "to"}, "y": {"datum": 0, "type": "quantitative", "scale": {"domain": [0, 10], "range": [87.3, 77.3]}, "axis": null}}},
      {"data": {"name": "cExon"}, "mark": {"type": "tick", "orient": "vertical", "size": 3.2, "thickness": 1, "color": "#b43030", "opacity": 1},
       "encoding": {"x": {"field": "pos", "type": "quantitative"}, "y": {"datum": 0, "type": "quantitative", "axis": null}}},
      {"data": {"values": [{"from": 163026370, "to": 163029000}]}, "mark": {"type": "rule", "color": "#8e1b1b", "strokeWidth": 2},
       "encoding": {"x": {"field": "from", "type": "quantitative"}, "x2": {"field": "to"}, "y": {"datum": 8, "type": "quantitative", "axis": null}}},
      {"data": {"values": [{"to": 163029400}]}, "mark": {"type": "point", "shape": "triangle-right", "filled": true, "size": 22, "color": "#8e1b1b", "opacity": 1},
       "encoding": {"x": {"field": "to", "type": "quantitative"}, "y": {"datum": 8, "type": "quantitative", "axis": null}}},
      {"data": {"values": [{"t": "HSD52"}]}, "mark": {"type": "text", "fontSize": 3.5, "color": "#333"},
       "encoding": {"x": {"datum": 163045530, "type": "quantitative"}, "y": {"datum": 3, "type": "quantitative", "axis": null}, "text": {"field": "t", "type": "nominal"}}}
    ]}
   ]
  },
  {
   "width": 180, "height": 71,
   "title": {"text": "d", "offset": 1, "dy": 4, "dx": -32},
   "resolve": {"scale": {"y": "independent"}},
   "layer": [
    {"data": {"values": [{"pos": 98418813, "pos2": 98420036}]}, "mark": {"type": "rect", "color": "#dcdcf5", "opacity": 0.9},
     "encoding": {
      "x": {"field": "pos", "type": "quantitative", "scale": {"domain": [98417100, 98461150], "nice": false, "zero": false},
            "axis": {"values": [98420000, 98430000, 98440000, 98450000, 98460000], "format": "d", "title": "Chromosome 4 (Mb)", "titleFontSize": 6, "titleFontWeight": "normal", "titleColor": "#222", "labelFontSize": 3.5, "labelColor": "#333", "tickSize": 2, "tickColor": "#444", "domainColor": "#444", "domainWidth": 0.8, "labelPadding": 1, "titlePadding": 0, "labelFlush": false}},
      "x2": {"field": "pos2"}}},
    {"layer": [
      {"data": {"name": "dDmr"}, "mark": {"type": "bar", "orient": "vertical", "width": 3, "color": "#ee2024"},
       "encoding": {"x": {"field": "pos", "type": "quantitative"}, "y": {"field": "m", "type": "quantitative", "scale": {"domain": [0, 10], "range": [7.7, -2.3]}, "axis": null}}},
      {"data": {"values": [{"t": "Muscle_Adult"}]}, "mark": {"type": "text", "align": "right", "baseline": "middle", "fontSize": 4, "fontWeight": "bold", "color": "#e8262d", "dx": -7.3},
       "encoding": {"x": {"datum": 98417100, "type": "quantitative"}, "y": {"datum": 5, "type": "quantitative", "axis": null}, "text": {"field": "t", "type": "nominal"}}}
    ]},
    {"layer": [
      {"data": {"name": "dSpan"}, "mark": {"type": "rule", "color": "#8f8f8f", "strokeWidth": 0.8},
       "encoding": {"x": {"field": "from", "type": "quantitative"}, "x2": {"field": "to"}, "y": {"datum": 0, "type": "quantitative", "axis": null}}},
      {"data": {"name": "dDmr"}, "mark": {"type": "bar", "orient": "vertical", "width": 3, "color": "#1c1cc8"},
       "encoding": {"x": {"field": "pos", "type": "quantitative"}, "y": {"field": "t", "type": "quantitative", "scale": {"domain": [0, 10], "range": [14.3, 4.3]}, "axis": null}}},
      {"data": {"values": [{"t": "Testis_Adult"}]}, "mark": {"type": "text", "align": "right", "baseline": "middle", "fontSize": 4, "fontWeight": "bold", "color": "#2b2bd6", "dx": -7.3},
       "encoding": {"x": {"datum": 98417100, "type": "quantitative"}, "y": {"datum": 3.3, "type": "quantitative", "axis": null}, "text": {"field": "t", "type": "nominal"}}},
      {"data": {"values": [{"t": "DMR"}]}, "mark": {"type": "text", "align": "left", "baseline": "middle", "fontSize": 5, "fontWeight": "bold", "font": "Liberation Serif", "color": "#111", "dx": 1.5},
       "encoding": {"x": {"datum": 98461150, "type": "quantitative"}, "y": {"datum": 0, "type": "quantitative", "axis": null}, "text": {"field": "t", "type": "nominal"}}}
    ]},
    {"layer": [
      {"data": {"name": "dRnaM"}, "mark": {"type": "area", "color": "#ee2024"},
       "encoding": {"x": {"field": "pos", "type": "quantitative"}, "y": {"field": "v", "type": "quantitative", "scale": {"domain": [0, 10], "range": [24.3, 14.3]}, "axis": null}}},
      {"data": {"values": [{"t": "Muscle_Adult"}]}, "mark": {"type": "text", "align": "right", "baseline": "middle", "fontSize": 4, "fontWeight": "bold", "color": "#e8262d", "dx": -7.3},
       "encoding": {"x": {"datum": 98417100, "type": "quantitative"}, "y": {"datum": 0.6, "type": "quantitative", "axis": null}, "text": {"field": "t", "type": "nominal"}}}
    ]},
    {"layer": [
      {"data": {"name": "dSpan"}, "mark": {"type": "rule", "color": "#1c1cc8", "strokeWidth": 0.9},
       "encoding": {"x": {"field": "from", "type": "quantitative"}, "x2": {"field": "to"}, "y": {"datum": 0, "type": "quantitative", "axis": null}}},
      {"data": {"name": "dRnaT"}, "mark": {"type": "bar", "orient": "vertical", "width": 1.3, "color": "#1c1cc8"},
       "encoding": {"x": {"field": "pos", "type": "quantitative"}, "y": {"field": "v", "type": "quantitative", "scale": {"domain": [0, 10], "range": [32, 22]}, "axis": null}}},
      {"data": {"values": [{"t": "Testis_Adult"}]}, "mark": {"type": "text", "align": "right", "baseline": "middle", "fontSize": 4, "fontWeight": "bold", "color": "#2b2bd6", "dx": -7.3},
       "encoding": {"x": {"datum": 98417100, "type": "quantitative"}, "y": {"datum": 1.7, "type": "quantitative", "axis": null}, "text": {"field": "t", "type": "nominal"}}},
      {"data": {"values": [{"t": "RNA-seq"}]}, "mark": {"type": "text", "align": "left", "baseline": "middle", "fontSize": 5, "fontWeight": "bold", "font": "Liberation Serif", "color": "#111", "dx": 1.5},
       "encoding": {"x": {"datum": 98461150, "type": "quantitative"}, "y": {"datum": -0.7, "type": "quantitative", "axis": null}, "text": {"field": "t", "type": "nominal"}}}
    ]},
    {"layer": [
      {"data": {"name": "dChip"}, "mark": {"type": "area", "color": "#ee2024", "interpolate": "step"},
       "encoding": {"x": {"field": "pos", "type": "quantitative"}, "y": {"field": "k4m", "type": "quantitative", "scale": {"domain": [0, 10], "range": [42, 32]}, "axis": null}}},
      {"data": {"values": [{"t": "Muscle_Adult"}]}, "mark": {"type": "text", "align": "right", "baseline": "middle", "fontSize": 4, "fontWeight": "bold", "color": "#e8262d", "dx": -7.3},
       "encoding": {"x": {"datum": 98417100, "type": "quantitative"}, "y": {"datum": 2.7, "type": "quantitative", "axis": null}, "text": {"field": "t", "type": "nominal"}}}
    ]},
    {"layer": [
      {"data": {"name": "dChip"}, "mark": {"type": "area", "color": "#1c1cc8", "interpolate": "step"},
       "encoding": {"x": {"field": "pos", "type": "quantitative"}, "y": {"field": "k4t", "type": "quantitative", "scale": {"domain": [0, 10], "range": [50.3, 40.3]}, "axis": null}}},
      {"data": {"values": [{"t": "Testis_Adult"}]}, "mark": {"type": "text", "align": "right", "baseline": "middle", "fontSize": 4, "fontWeight": "bold", "color": "#2b2bd6", "dx": -7.3},
       "encoding": {"x": {"datum": 98417100, "type": "quantitative"}, "y": {"datum": 2.6, "type": "quantitative", "axis": null}, "text": {"field": "t", "type": "nominal"}}},
      {"data": {"values": [{"t": "H3K4me3"}]}, "mark": {"type": "text", "align": "left", "baseline": "middle", "fontSize": 5, "fontWeight": "bold", "font": "Liberation Serif", "color": "#111", "dx": 1.5},
       "encoding": {"x": {"datum": 98461150, "type": "quantitative"}, "y": {"datum": 2, "type": "quantitative", "axis": null}, "text": {"field": "t", "type": "nominal"}}}
    ]},
    {"layer": [
      {"data": {"name": "dChip"}, "mark": {"type": "area", "color": "#ee2024", "interpolate": "step"},
       "encoding": {"x": {"field": "pos", "type": "quantitative"}, "y": {"field": "k27m", "type": "quantitative", "scale": {"domain": [0, 10], "range": [62.7, 52.7]}, "axis": null}}},
      {"data": {"values": [{"t": "Muscle_Adult"}]}, "mark": {"type": "text", "align": "right", "baseline": "middle", "fontSize": 4, "fontWeight": "bold", "color": "#e8262d", "dx": -7.3},
       "encoding": {"x": {"datum": 98417100, "type": "quantitative"}, "y": {"datum": 2.7, "type": "quantitative", "axis": null}, "text": {"field": "t", "type": "nominal"}}}
    ]},
    {"layer": [
      {"data": {"name": "dChip"}, "mark": {"type": "area", "color": "#1c1cc8", "interpolate": "step"},
       "encoding": {"x": {"field": "pos", "type": "quantitative"}, "y": {"field": "k27t", "type": "quantitative", "scale": {"domain": [0, 10], "range": [70.3, 60.3]}, "axis": null}}},
      {"data": {"values": [{"t": "Testis_Adult"}]}, "mark": {"type": "text", "align": "right", "baseline": "middle", "fontSize": 4, "fontWeight": "bold", "color": "#2b2bd6", "dx": -7.3},
       "encoding": {"x": {"datum": 98417100, "type": "quantitative"}, "y": {"datum": 2.6, "type": "quantitative", "axis": null}, "text": {"field": "t", "type": "nominal"}}},
      {"data": {"values": [{"t": "H3K27ac"}]}, "mark": {"type": "text", "align": "left", "baseline": "middle", "fontSize": 5, "fontWeight": "bold", "font": "Liberation Serif", "color": "#111", "dx": 1.5},
       "encoding": {"x": {"datum": 98461150, "type": "quantitative"}, "y": {"datum": 5.3, "type": "quantitative", "axis": null}, "text": {"field": "t", "type": "nominal"}}}
    ]},
    {"layer": [
      {"data": {"values": [{"from": 98420600, "to": 98460900}]}, "mark": {"type": "rule", "color": "#b43030", "strokeWidth": 0.8},
       "encoding": {"x": {"field": "from", "type": "quantitative"}, "x2": {"field": "to"}, "y": {"datum": 0, "type": "quantitative", "scale": {"domain": [0, 10], "range": [93.3, 83.3]}, "axis": null}}},
      {"data": {"name": "dExon"}, "mark": {"type": "tick", "orient": "vertical", "size": 3.2, "thickness": 1, "color": "#b43030", "opacity": 1},
       "encoding": {"x": {"field": "pos", "type": "quantitative"}, "y": {"datum": 0, "type": "quantitative", "axis": null}}},
      {"data": {"values": [{"from": 98421431, "to": 98423000}]}, "mark": {"type": "rule", "color": "#8e1b1b", "strokeWidth": 2},
       "encoding": {"x": {"field": "from", "type": "quantitative"}, "x2": {"field": "to"}, "y": {"datum": 6.6, "type": "quantitative", "axis": null}}},
      {"data": {"values": [{"to": 98423350}]}, "mark": {"type": "point", "shape": "triangle-right", "filled": true, "size": 22, "color": "#8e1b1b", "opacity": 1},
       "encoding": {"x": {"field": "to", "type": "quantitative"}, "y": {"datum": 6.6, "type": "quantitative", "axis": null}}},
      {"data": {"values": [{"t": "HDRB6D1"}]}, "mark": {"type": "text", "fontSize": 3.5, "color": "#333"},
       "encoding": {"x": {"datum": 98439368, "type": "quantitative"}, "y": {"datum": 3.3, "type": "quantitative", "axis": null}, "text": {"field": "t", "type": "nominal"}}}
    ]}
   ]
  },
  {"hconcat": [
    {
     "width": 70, "height": 110,
     "title": {"text": "e", "offset": 0, "dy": 27, "dx": -23},
     "data": {"name": "pieE"},
     "encoding": {"theta": {"field": "v", "type": "quantitative", "stack": true}, "order": {"field": "i", "type": "quantitative"}},
     "layer": [
      {"mark": {"type": "arc", "outerRadius": 54},
       "encoding": {"color": {"field": "cat", "type": "nominal", "scale": {"domain": ["Distal", "Proximal", "Intragenic"], "range": ["#619CFF", "#00BA38", "#F8766D"]}, "legend": null}}},
      {"mark": {"type": "text", "radius": 29, "fontSize": 5.6, "color": "#1a1a1a"}, "encoding": {"text": {"field": "label", "type": "nominal"}}}
     ]
    },
    {
     "width": 110, "height": 110,
     "title": {"text": "f", "offset": 0, "dy": 27, "dx": -4},
     "data": {"name": "pieF"},
     "encoding": {"theta": {"field": "v", "type": "quantitative", "stack": true}, "order": {"field": "i", "type": "quantitative"}},
     "layer": [
      {"mark": {"type": "arc", "outerRadius": 52.5},
       "encoding": {"color": {"field": "cat", "type": "nominal", "scale": {"domain": ["Distal", "Proximal", "Intragenic"], "range": ["#619CFF", "#00BA38", "#F8766D"]}, "legend": null}}},
      {"mark": {"type": "text", "radius": 33, "fontSize": 5.6, "color": "#1a1a1a", "lineBreak": "\n"}, "encoding": {"text": {"field": "label", "type": "nominal"}}}
     ]
    }
  ], "spacing": 30, "bounds": "flush"}
 ], "spacing": 31, "bounds": "flush"}
]
}
